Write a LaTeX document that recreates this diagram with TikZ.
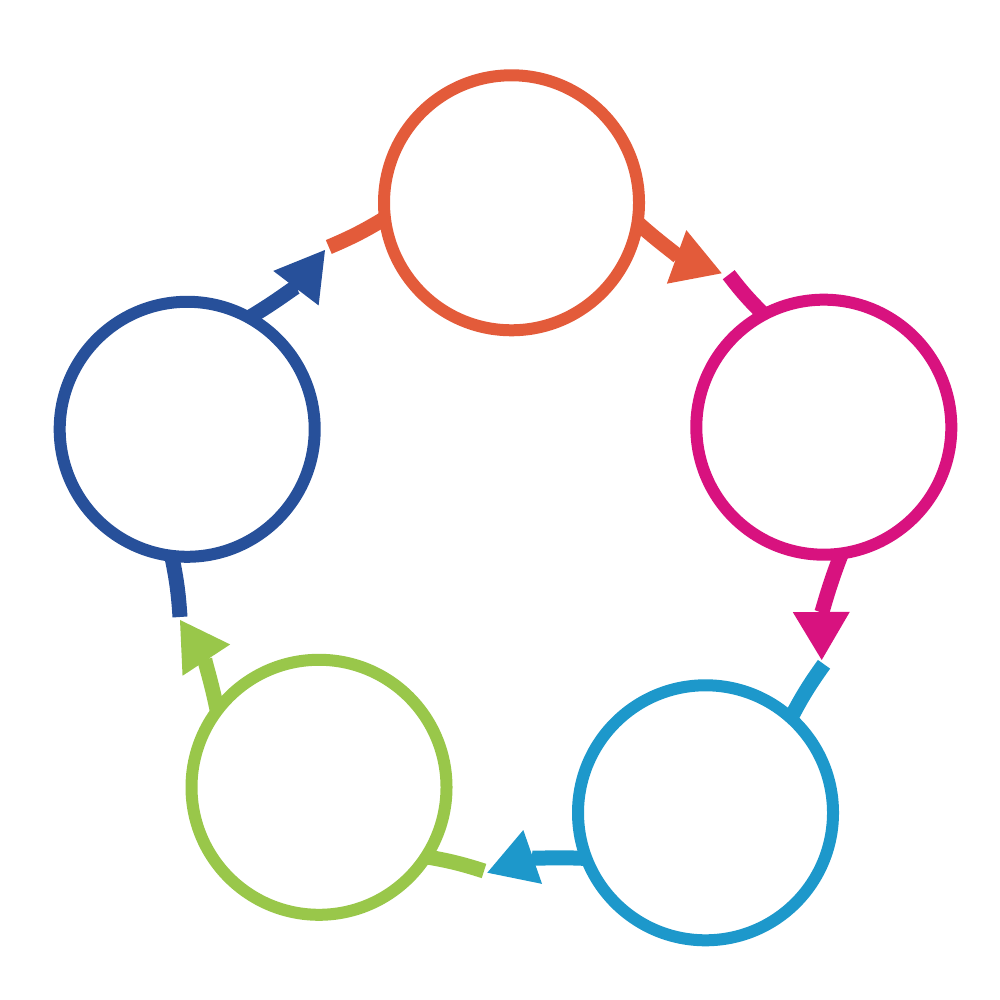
\documentclass[tikz,border=0pt]{standalone}
\usepackage{xcolor}
\usepackage{tikz}
\usetikzlibrary{arrows.meta}

\definecolor{cOrange}{HTML}{E35B3A}
\definecolor{cMagenta}{HTML}{D8127F}
\definecolor{cCyan}{HTML}{1D98CB}
\definecolor{cGreen}{HTML}{99C74A}
\definecolor{cNavy}{HTML}{27509A}

\begin{document}
\begin{tikzpicture}[ring/.style={circle, draw, line width=1.2mm, minimum size=2.55cm, inner sep=0pt, outer sep=0pt},
	arr/.style={line width=1.5mm, -{Triangle[length=4.8mm, width=5.7mm, line width=0pt]}},
	stub/.style={line width=1.5mm}]
		\useasboundingbox (0,0) rectangle (10,10);
		% the five circles
		\node[ring, draw=cOrange] (orange) at (5.115,7.972) {};
		\node[ring, draw=cMagenta] (magenta) at (8.238,5.728) {};
		\node[ring, draw=cCyan] (cyan) at (7.055,1.872) {};
		\node[ring, draw=cGreen] (green) at (3.190,2.127) {};
		\node[ring, draw=cNavy] (navy) at (1.872,5.707) {};
		% arrow tips and stub ends between the circles
		\coordinate (tipOM) at (7.217,7.267);
		\coordinate (stubOM) at (7.287,7.253);
		\coordinate (tipMC) at (8.217,3.400);
		\coordinate (stubMC) at (8.240,3.357);
		\coordinate (tipCG) at (4.873,1.273);
		\coordinate (stubCG) at (4.840,1.290);
		\coordinate (tipGN) at (1.800,3.800);
		\coordinate (stubGN) at (1.800,3.830);
		\coordinate (tipNO) at (3.250,7.500);
		\coordinate (stubNO) at (3.288,7.530);
		% connectors
		\draw[arr, cOrange] (orange.-9) to[bend right=11] (tipOM);
		\draw[stub, cMagenta] (stubOM) to[bend right=4] (magenta.118);
		\draw[arr, cMagenta] (magenta.-82) to[bend right=11] (tipMC);
		\draw[stub, cCyan] (stubMC) to[bend right=4] (cyan.48.5);
		\draw[arr, cCyan] (cyan.-159) to[bend right=11] (tipCG);
		\draw[stub, cGreen] (stubCG) to[bend right=4] (green.-33.6);
		\draw[arr, cGreen] (green.143) to[bend right=11] (tipGN);
		\draw[stub, cNavy] (stubGN) to[bend right=4] (navy.-97);
		\draw[arr, cNavy] (navy.61) to[bend right=11] (tipNO);
		\draw[stub, cOrange] (stubNO) to[bend right=4] (orange.187);
	\end{tikzpicture}
\end{document}
